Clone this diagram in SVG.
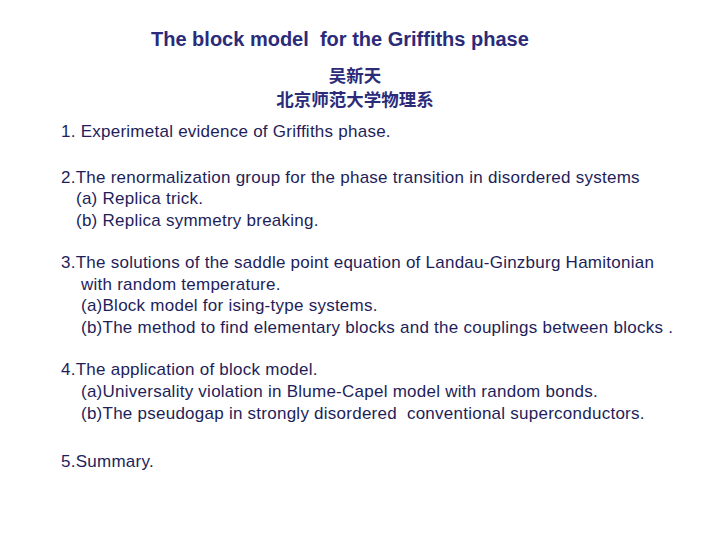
<svg xmlns="http://www.w3.org/2000/svg" width="720" height="540" viewBox="0 0 720 540">
<style>
.t{font-family:"Liberation Sans",Arial,sans-serif;font-size:20px;font-weight:bold;fill:#2b2b7a;white-space:pre}
.c{font-family:"Noto Sans CJK SC","Liberation Sans",sans-serif;font-size:17.5px;font-weight:bold;fill:#2b2b7a}
.b{font-family:"Liberation Sans",Arial,sans-serif;font-size:17px;letter-spacing:0.25px;fill:#1e1e5a;white-space:pre}
</style>
<rect width="720" height="540" fill="#fff"/>
<text class="t" x="151" y="46" xml:space="preserve">The block model  for the Griffiths phase</text>
<text class="c" x="355" y="82" text-anchor="middle">吴新天</text>
<text class="c" x="355" y="106" text-anchor="middle">北京师范大学物理系</text>
<g class="b">
<text x="61" y="137">1. Experimetal evidence of Griffiths phase.</text>
<text x="61" y="183">2.The renormalization group for the phase transition in disordered systems</text>
<text x="76" y="204">(a) Replica trick.</text>
<text x="76" y="226">(b) Replica symmetry breaking.</text>
<text x="61" y="268">3.The solutions of the saddle point equation of Landau-Ginzburg Hamitonian</text>
<text x="81" y="290">with random temperature.</text>
<text x="81" y="311">(a)Block model for ising-type systems.</text>
<text x="81" y="333">(b)The method to find elementary blocks and the couplings between blocks .</text>
<text x="61" y="375">4.The application of block model.</text>
<text x="81" y="397">(a)Universality violation in Blume-Capel model with random bonds.</text>
<text x="81" y="419" xml:space="preserve">(b)The pseudogap in strongly disordered  conventional superconductors.</text>
<text x="61" y="467">5.Summary.</text>
</g>
</svg>
